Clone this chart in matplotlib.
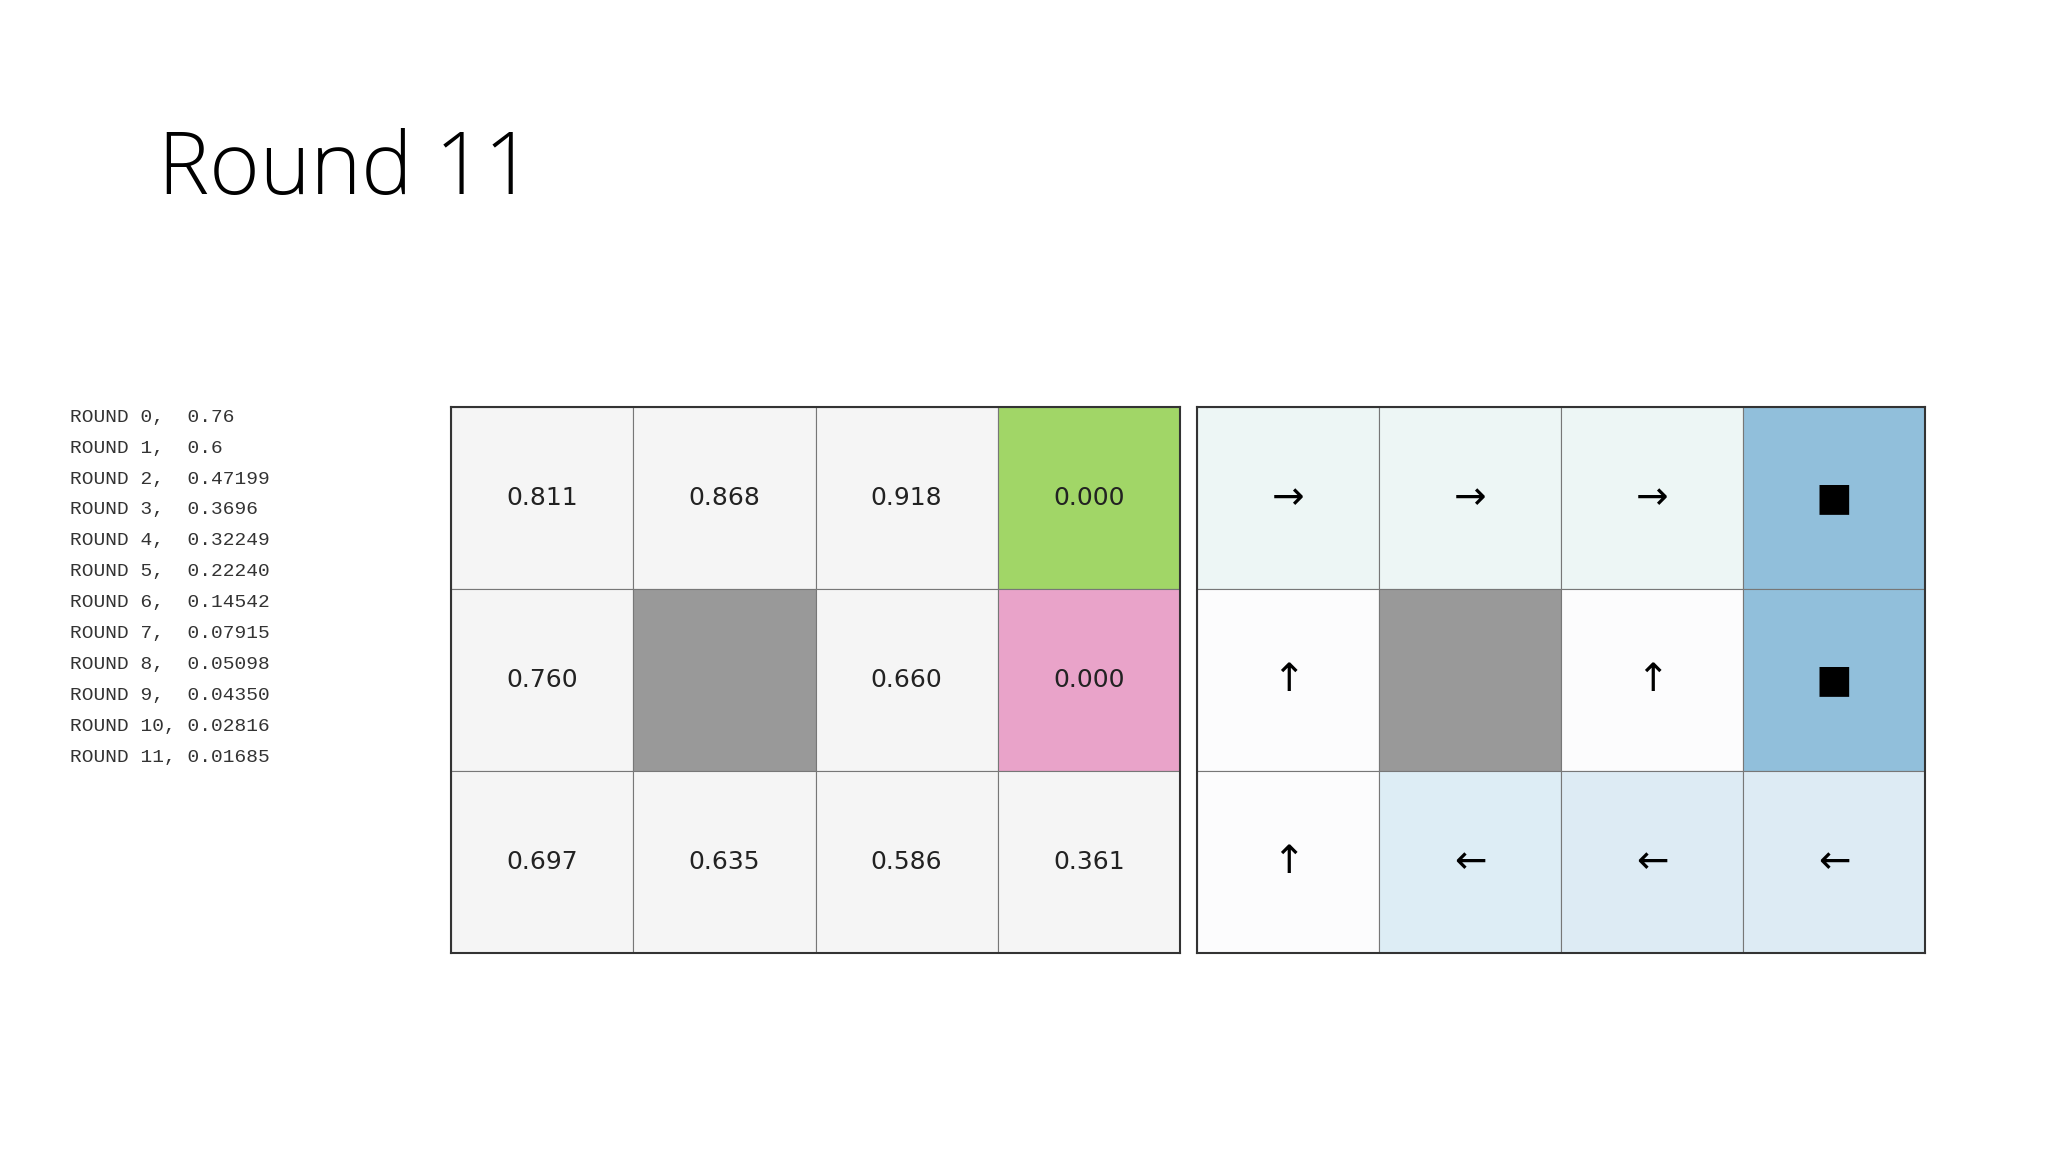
import matplotlib
matplotlib.use("Agg")
import matplotlib.pyplot as plt
from matplotlib.patches import Rectangle

rounds = list(range(12))
deltas = ["0.76", "0.6", "0.47199", "0.3696", "0.32249", "0.22240", "0.14542",
          "0.07915", "0.05098", "0.04350", "0.02816", "0.01685"]
values = [["0.811", "0.868", "0.918", "0.000"],
          ["0.760", None, "0.660", "0.000"],
          ["0.697", "0.635", "0.586", "0.361"]]
value_colors = [["#f5f5f5", "#f5f5f5", "#f5f5f5", "#a1d667"],
                ["#f5f5f5", "#999999", "#f5f5f5", "#e9a3c9"],
                ["#f5f5f5", "#f5f5f5", "#f5f5f5", "#f5f5f5"]]
policy = [["→", "→", "→", "■"],
          ["↑", None, "↑", "■"],
          ["↑", "←", "←", "←"]]
policy_colors = [["#edf6f5", "#edf6f5", "#edf6f5", "#91bfdb"],
                 ["#fcfcfd", "#999999", "#fcfcfd", "#91bfdb"],
                 ["#fcfcfd", "#ddedf5", "#ddebf4", "#ddebf4"]]

fig = plt.figure(figsize=(20.48, 11.52), dpi=100)
fig.text(0.077, 0.851, "Round 11", fontsize=62, family=["Open Sans", "DejaVu Sans"],
         fontweight="light", va="center", ha="left")

for i, (r, d) in enumerate(zip(rounds, deltas)):
    lab = f"ROUND {r},"
    fig.text(0.034, 0.638 - i * 0.0269, f"{lab:<10}{d}", family="Liberation Mono",
             fontsize=14, color="#333333", va="center")

def grid(left, texts, colors, fs):
    ax = fig.add_axes([left, 0.173, 0.3557, 0.474])
    for r in range(3):
        for c in range(4):
            ax.add_patch(Rectangle((c, 2 - r), 1, 1, facecolor=colors[r][c],
                                   edgecolor="#777777", lw=0.8))
            t = texts[r][c]
            if t:
                ax.text(c + 0.5, 2 - r + 0.5, t, ha="center", va="center",
                        fontsize=fs, color="#222222" if fs < 25 else "black",
                        family="DejaVu Sans")
    ax.set_xlim(0, 4); ax.set_ylim(0, 3)
    ax.set_xticks([]); ax.set_yticks([])
    for s in ax.spines.values():
        s.set_linewidth(1.5); s.set_color("#333333")

grid(0.2204, values, value_colors, 18)
grid(0.5844, policy, policy_colors, 28)
fig.savefig("out.png", dpi=100)
